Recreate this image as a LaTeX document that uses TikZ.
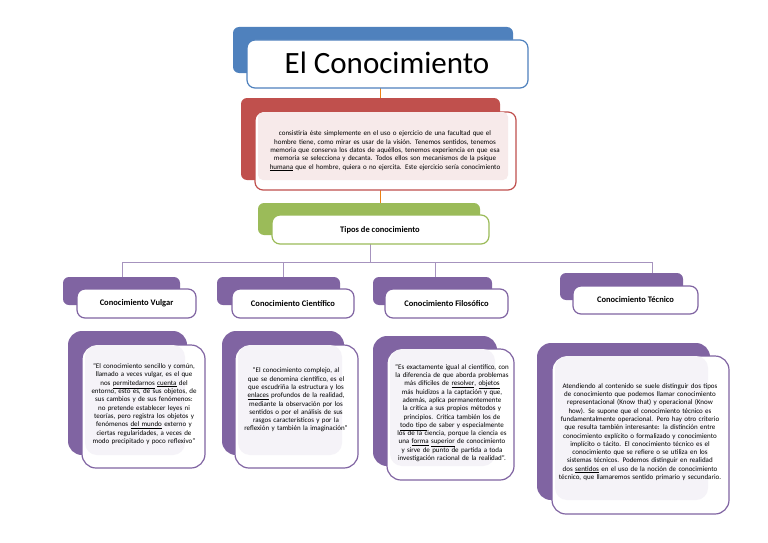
\documentclass[tikz,border=0pt]{standalone}
\usepackage{fontspec}
\setmainfont{Carlito}
\hyphenpenalty=10000
\exhyphenpenalty=10000
\begin{document}
\begin{tikzpicture}[x=1pt,y=-1pt,
 back/.style={rounded corners=6pt},
 front/.style={rounded corners=8pt,line width=1.2pt},
 txt/.style={align=center,font=\fontsize{7}{8.3}\selectfont,text width=#1},
 hd/.style={font=\fontsize{8.5}{10}\selectfont\bfseries}]
\definecolor{blu}{HTML}{4F81BD}\definecolor{red1}{HTML}{C0504D}
\definecolor{grn}{HTML}{9BBB59}\definecolor{pur}{HTML}{8064A2}
\useasboundingbox (0,0) rectangle (768,543);
% connectors
\coordinate (hl) at (122,262); \coordinate (hr) at (652,262);
\draw[pur!70,line width=0.8pt] (370,244) -- (370,262) (hl) -- (hr)
 (hl) -- (122,289) (283,262) -- (283,289) (435,262) -- (435,289) (hr) -- (652,286);
\draw[orange!70!brown,line width=0.8pt] (380,88) -- (380,112) (380,190) -- (380,215);
% title
\fill[blu,back] (233,27) rectangle (513,73);
\draw[blu,fill=white,front] (247,40) rectangle (528,88);
\node (t) at (387,63) {\fontsize{31}{33}\selectfont El Conocimiento};
% red
\fill[red1,back] (241,98) rectangle (500,180);
\draw[red1,fill=white,front] (255,112) rectangle (516,190);
\fill[red1!12,rounded corners=5pt] (258,112) rectangle (508,180);
\node[txt=245pt] (r) at (385,151) {consistiría éste simplemente en el uso o ejercicio de una facultad que el hombre tiene, como mirar es usar de la visión. Tenemos sentidos, tenemos memoria que conserva los datos de aquéllos, tenemos experiencia en que esa memoria se selecciona y decanta. Todos ellos son mecanismos de la psique \underline{humana} que el hombre, quiera o no ejercita. Este ejercicio sería conocimiento};
% green
\fill[grn,back] (258,203) rectangle (480,235);
\draw[grn,fill=white,front] (272,215) rectangle (489,244);
\node[hd] (g) at (380,230) {Tipos de conocimiento};
% headings
\foreach \a/\b/\c/\d/\e/\f/\g/\h/\n/\tx in {
 63/277/180/305/77/289/196/318/h1/Conocimiento Vulgar,
 217/277/340/305/232/289/354/318/h2/Conocimiento Científico,
 373/277/492/305/385/289/508/318/h3/Conocimiento Filosófico,
 560/273/683/300/573/286/698/314/h4/Conocimiento Técnico}{
 \fill[pur,back] (\a,\b) rectangle (\c,\d);
 \draw[pur,fill=white,front] (\e,\f) rectangle (\g,\h);
 \node[hd] (\n) at ({(\e+\g)/2},{(\f+\h)/2}) {\tx};}
% content boxes
\foreach \a/\b/\c/\d/\e/\f/\g/\h in {
 68/331/187/455/82/345/205/468, 222/331/344/455/235/345/358/468,
 373/336/497/466/387/349/514/480, 537/343/710/500/552/356/729/514}{
 \fill[pur,rounded corners=14pt] (\a,\b) rectangle (\c,\d);
 \draw[pur,fill=white,line width=1.2pt,rounded corners=14pt] (\e,\f) rectangle (\g,\h);
 \fill[pur!8,rounded corners=12pt] (\e+3,\f) rectangle (\c-2,\d);}
\node[txt=112pt] (c1) at (144,404) {“El conocimiento sencillo y común, llamado a veces vulgar, es el que nos \underline{permitedarnos} \underline{cuenta} del entorno, esto es, de sus objetos, de sus cambios y de sus fenómenos: no pretende establecer leyes ni teorías, pero registra los objetos y fenómenos \underline{del mundo} externo y ciertas regularidades, a veces de modo precipitado y poco reflexivo”};
\node[txt=112pt] (c2) at (296,400) {“El conocimiento complejo, al que se denomina científico, es el que escudriña la estructura y los \underline{enlaces} profundos de la realidad, mediante la observación por los sentidos o por el análisis de sus rasgos característicos y por la reflexión y también la imaginación”};
\node[txt=118pt] (c3) at (452,413) {“Es exactamente igual al científico, con la diferencia de que aborda problemas más difíciles de \underline{resolver}, \underline{objetos} más huidizos a la captación y que, además, aplica permanentemente la crítica a sus propios métodos y principios. Crítica también los de \underline{todo tipo} de saber y especialmente los de la ciencia, porque la ciencia es una \underline{forma} \underline{superior} de conocimiento y sirve de punto de partida a toda investigación racional de la realidad”.};
\node[txt=168pt] (c4) at (640,432) {Atendiendo al contenido se suele distinguir dos tipos de conocimiento que podemos llamar conocimiento representacional (Know that) y operacional (Know how). Se supone que el conocimiento técnico es fundamentalmente operacional. Pero hay otro criterio que resulta también interesante: la distinción entre conocimiento explícito o formalizado y conocimiento implícito o tácito. El conocimiento técnico es el conocimiento que se refiere o se utiliza en los sistemas técnicos. Podemos distinguir en realidad dos \underline{sentidos} en el uso de la noción de conocimiento técnico, que llamaremos sentido primario y secundario.};
\end{tikzpicture}
\end{document}
